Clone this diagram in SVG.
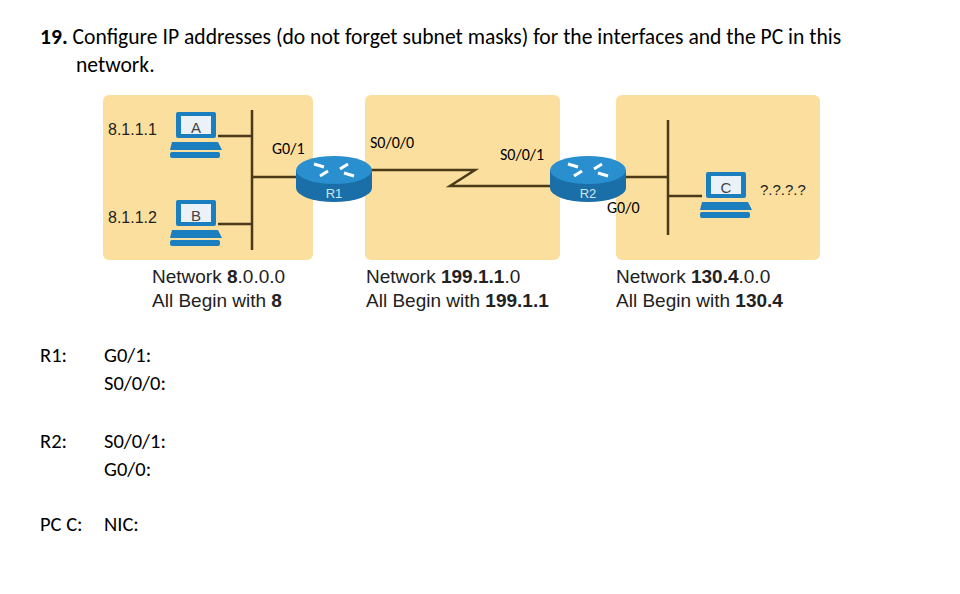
<svg xmlns="http://www.w3.org/2000/svg" width="960" height="594" viewBox="0 0 960 594">
<style>
.b{font-family:Calibri,Carlito,"Liberation Sans",sans-serif;fill:#000}
.n{font-family:"Liberation Sans",Arial,sans-serif;fill:#222}
.box{fill:#fbdf9e}
.w{stroke:#4a3a1a;stroke-width:2.5;fill:none}
.sm{font-family:"Liberation Sans",sans-serif;font-size:15px;fill:#444}
</style>
<defs>
<g id="pc">
<rect x="6" y="0" width="40" height="26" rx="2" fill="#1b7fbf"/>
<rect x="11" y="4" width="30" height="18" fill="#eaf2f8"/>
<path d="M2 30 L48 30 L52 38 L0 38 Z" fill="#1b7fbf"/>
<rect x="0" y="40" width="50" height="6" rx="2" fill="#1b7fbf"/>
</g>
<g id="rt">
<path d="M-38 -8 L-38 10 A38 14 0 0 0 38 10 L38 -8 Z" fill="#1a6fa8"/>
<ellipse cx="0" cy="-8" rx="38" ry="14" fill="#2a8fcf"/>
<path d="M-20 -14 l10 3 M20 -2 l-10 -3 M-14 -2 l8 -5 M14 -14 l-8 5" stroke="#fff" stroke-width="3"/>
</g>
</defs>
<text class="b" x="40" y="44" font-size="21.6"><tspan font-weight="bold">19.</tspan> Configure IP addresses (do not forget subnet masks) for the interfaces and the PC in this</text>
<text class="b" x="76" y="72" font-size="21.6">network.</text>
<rect class="box" x="103" y="95" width="210" height="165" rx="6"/>
<rect class="box" x="365" y="95" width="195" height="165" rx="6"/>
<rect class="box" x="616" y="95" width="204" height="165" rx="6"/>
<g id="connectors">
<path class="w" d="M252 110 V250 M218 136 H252 M218 224 H252 M252 177 H296"/>
<path class="w" d="M370 170 H475 L450 186 H552"/>
<path class="w" d="M668 120 V235 M624 177 H668 M668 196 H702"/>
</g>
<g id="A"><use href="#pc" x="170" y="112"/><text x="196" y="133" text-anchor="middle" class="sm">A</text></g>
<g id="B"><use href="#pc" x="170" y="200"/><text x="196" y="221" text-anchor="middle" class="sm">B</text></g>
<g id="C"><use href="#pc" x="700" y="172"/><text x="726" y="193" text-anchor="middle" class="sm">C</text></g>
<g id="R1"><use href="#rt" x="334" y="178"/><text x="334" y="198" text-anchor="middle" font-family="Liberation Sans,sans-serif" font-size="13" fill="#cfe6f5">R1</text></g>
<g id="R2"><use href="#rt" x="588" y="178"/><text x="588" y="198" text-anchor="middle" font-family="Liberation Sans,sans-serif" font-size="13" fill="#cfe6f5">R2</text></g>
<text class="n" x="108" y="135" font-size="16">8.1.1.1</text>
<text class="n" x="108" y="223" font-size="16">8.1.1.2</text>
<text class="b" x="272" y="154" font-size="16">G0/1</text>
<text class="b" x="370" y="148" font-size="16">S0/0/0</text>
<text class="b" x="500" y="160" font-size="16">S0/0/1</text>
<text class="b" x="607" y="213" font-size="16">G0/0</text>
<text class="n" x="760" y="195" font-size="15" fill="#887755">?.?.?.?</text>
<g class="n" font-size="19">
<text x="152" y="283">Network <tspan font-weight="bold">8</tspan>.0.0.0</text>
<text x="152" y="307">All Begin with <tspan font-weight="bold">8</tspan></text>
<text x="366" y="283">Network <tspan font-weight="bold">199.1.1</tspan>.0</text>
<text x="366" y="307">All Begin with <tspan font-weight="bold">199.1.1</tspan></text>
<text x="616" y="283">Network <tspan font-weight="bold">130.4</tspan>.0.0</text>
<text x="616" y="307">All Begin with <tspan font-weight="bold">130.4</tspan></text>
</g>
<g class="b" font-size="20.5">
<text x="40" y="362">R1:</text><text x="104" y="362">G0/1:</text><text x="104" y="390">S0/0/0:</text>
<text x="40" y="448">R2:</text><text x="104" y="448">S0/0/1:</text><text x="104" y="476">G0/0:</text>
<text x="40" y="531">PC C:</text><text x="104" y="531">NIC:</text>
</g>
</svg>
